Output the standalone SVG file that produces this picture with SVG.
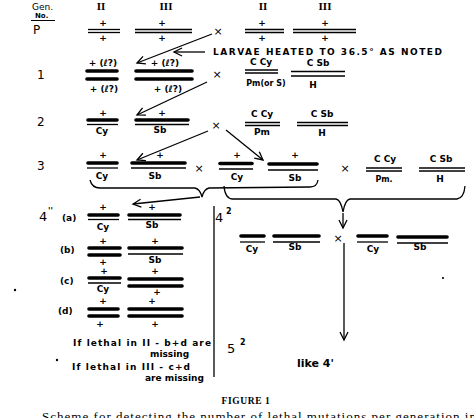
<svg xmlns="http://www.w3.org/2000/svg" width="474" height="418" viewBox="0 0 474 418">
<defs>
<marker id="ah" markerUnits="userSpaceOnUse" markerWidth="12" markerHeight="12" refX="9" refY="5" orient="auto">
<path d="M1,1 L9,5 L1,9" fill="none" stroke="#000" stroke-width="1.3"/>
</marker>
<style>
.t{stroke:#000;stroke-width:1.3;fill:none}
.k{stroke:#000;stroke-width:3.6;stroke-linecap:round;fill:none}
.c{stroke:#000;stroke-width:1.3;fill:none;marker-end:url(#ah)}
.b{stroke:#000;stroke-width:1.3;fill:none}
text{font-family:"DejaVu Sans","Liberation Sans",sans-serif;font-size:9px;font-weight:bold;fill:#000}
.m{text-anchor:middle}
.n{font-size:12px;font-weight:normal}
.r{font-family:"Liberation Serif",serif;font-weight:bold;font-size:11px}
.x{font-size:11px;text-anchor:middle;font-weight:normal}
.cap{font-family:"Liberation Serif",serif}
</style>
</defs>
<rect width="474" height="418" fill="#fff"/>

<g id="header">
<text x="32" y="10" style="font-weight:normal">Gen.</text>
<text x="35" y="18" style="font-size:7px">No.</text>
<line x1="31" y1="20.5" x2="55" y2="20.5" class="t" style="stroke-width:1"/>
<text x="33" y="34" class="n">P</text>
<text x="101" y="10" class="r m">II</text>
<text x="166" y="10" class="r m">III</text>
<text x="263" y="10" class="r m">II</text>
<text x="325" y="10" class="r m">III</text>
</g>

<g id="rowP">
<line x1="88" y1="29.5" x2="120" y2="29.5" class="t"/><line x1="88" y1="32.5" x2="120" y2="32.5" class="t"/>
<text x="103" y="26" class="m">+</text><text x="103" y="41" class="m">+</text>
<line x1="135" y1="29.5" x2="192" y2="29.5" class="t"/><line x1="135" y1="32.5" x2="192" y2="32.5" class="t"/>
<text x="162" y="26" class="m">+</text><text x="162" y="41" class="m">+</text>
<text x="218" y="35" class="x">×</text>
<line x1="245" y1="29.5" x2="284" y2="29.5" class="t"/><line x1="245" y1="32.5" x2="284" y2="32.5" class="t"/>
<text x="262" y="26" class="m">+</text><text x="262" y="41" class="m">+</text>
<line x1="293" y1="29.5" x2="356" y2="29.5" class="t"/><line x1="293" y1="32.5" x2="356" y2="32.5" class="t"/>
<text x="325" y="26" class="m">+</text><text x="325" y="41" class="m">+</text>
<text x="213" y="55" textLength="229" lengthAdjust="spacing">LARVAE HEATED TO 36.5° AS NOTED</text>
</g>

<g id="row1">
<text x="37" y="79" class="n">1</text>
<line x1="87" y1="71" x2="117" y2="71" class="k"/><line x1="87" y1="79" x2="117" y2="79" class="k"/>
<text x="103" y="66" class="m">+ (ℓ?)</text><text x="104" y="92" class="m">+ (ℓ?)</text>
<line x1="136" y1="71" x2="192" y2="71" class="k"/><line x1="136" y1="79" x2="192" y2="79" class="k"/>
<text x="165" y="66" class="m">+ (ℓ?)</text><text x="168" y="92" class="m">+ (ℓ?)</text>
<text x="217" y="78" class="x">×</text>
<line x1="245" y1="70" x2="278" y2="70" class="t"/><line x1="245" y1="73" x2="278" y2="73" class="t"/>
<text x="261" y="65" class="m">C Cy</text><text x="266" y="86" class="m" style="font-size:8px">Pm(or S)</text>
<line x1="291" y1="71.5" x2="345" y2="71.5" class="t"/><line x1="291" y1="76" x2="345" y2="76" class="t"/>
<text x="318" y="66" class="m">C Sb</text><text x="313" y="88" class="m">H</text>
</g>

<g id="row2">
<text x="37" y="126" class="n">2</text>
<line x1="88" y1="120" x2="117" y2="120" class="k"/><line x1="87" y1="124.5" x2="118" y2="124.5" class="t"/>
<text x="103" y="116" class="m">+</text><text x="102" y="134" class="m">Cy</text>
<line x1="136" y1="120" x2="188" y2="120" class="k"/><line x1="135" y1="124.5" x2="189" y2="124.5" class="t"/>
<text x="162" y="116" class="m">+</text><text x="160" y="133" class="m">Sb</text>
<text x="216" y="129" class="x">×</text>
<line x1="245" y1="122.5" x2="280" y2="122.5" class="t"/><line x1="245" y1="125.5" x2="280" y2="125.5" class="t"/>
<text x="262" y="117" class="m">C Cy</text><text x="262" y="135" class="m">Pm</text>
<line x1="297" y1="122.5" x2="348" y2="122.5" class="t"/><line x1="297" y1="125.5" x2="348" y2="125.5" class="t"/>
<text x="322" y="117" class="m">C Sb</text><text x="322" y="136" class="m">H</text>
</g>

<g id="row3">
<text x="37" y="170" class="n">3</text>
<line x1="88" y1="163" x2="117" y2="163" class="k"/><line x1="87" y1="168" x2="118" y2="168" class="t"/>
<text x="103" y="158" class="m">+</text><text x="102" y="179" class="m">Cy</text>
<line x1="132" y1="163" x2="185" y2="163" class="k"/><line x1="131" y1="168" x2="186" y2="168" class="t"/>
<text x="160" y="158" class="m">+</text><text x="155" y="179" class="m">Sb</text>
<text x="199" y="172" class="x">×</text>
<line x1="220" y1="163.5" x2="252" y2="163.5" class="k"/><line x1="219" y1="169" x2="253" y2="169" class="t"/>
<text x="237" y="158" class="m">+</text><text x="237" y="180" class="m">Cy</text>
<line x1="269" y1="164" x2="317" y2="164" class="k"/><line x1="268" y1="170" x2="318" y2="170" class="t"/>
<text x="295" y="158" class="m">+</text><text x="295" y="181" class="m">Sb</text>
<text x="345" y="172" class="x">×</text>
<line x1="366" y1="168" x2="402" y2="168" class="t"/><line x1="366" y1="171" x2="402" y2="171" class="t"/>
<text x="385" y="162" class="m">C Cy</text><text x="384" y="182" class="m" style="font-size:8px">Pm.</text>
<line x1="419" y1="168" x2="465" y2="168" class="t"/><line x1="419" y1="171" x2="465" y2="171" class="t"/>
<text x="441" y="162" class="m">C Sb</text><text x="440" y="182" class="m">H</text>
</g>

<g id="row4a">
<text x="39" y="221" style="font-size:13px;font-weight:normal">4</text><text x="48" y="214" style="font-size:8px">''</text>
<text x="62" y="221">(a)</text>
<line x1="89" y1="215" x2="118" y2="215" class="k"/><line x1="88" y1="219.5" x2="119" y2="219.5" class="t"/>
<text x="103" y="210" class="m">+</text><text x="103" y="230" class="m">Cy</text>
<line x1="129" y1="215" x2="180" y2="215" class="k"/><line x1="128" y1="219.5" x2="181" y2="219.5" class="t"/>
<text x="152" y="210" class="m">+</text><text x="152" y="228" class="m">Sb</text>
<text x="60" y="253">(b)</text>
<line x1="89" y1="248" x2="120" y2="248" class="k"/><line x1="89" y1="255" x2="120" y2="255" class="k"/>
<text x="103" y="244" class="m">+</text><text x="103" y="265" class="m">+</text>
<line x1="129" y1="248" x2="182" y2="248" class="k"/><line x1="128" y1="254" x2="183" y2="254" class="t"/>
<text x="155" y="244" class="m">+</text><text x="155" y="263" class="m">Sb</text>
<text x="60" y="284">(c)</text>
<line x1="89" y1="278" x2="120" y2="278" class="k"/><line x1="88" y1="283" x2="121" y2="283" class="t"/>
<text x="104" y="274" class="m">+</text><text x="103" y="292" class="m">Cy</text>
<line x1="129" y1="279" x2="182" y2="279" class="k"/><line x1="129" y1="286" x2="182" y2="286" class="k"/>
<text x="155" y="274" class="m">+</text><text x="157" y="294.5" class="m">+</text>
<text x="58" y="314">(d)</text>
<line x1="89" y1="309" x2="118" y2="309" class="k"/><line x1="89" y1="316" x2="118" y2="316" class="k"/>
<text x="103" y="304" class="m">+</text><text x="100" y="327" class="m">+</text>
<line x1="129" y1="309" x2="182" y2="309" class="k"/><line x1="129" y1="316" x2="182" y2="316" class="k"/>
<text x="152" y="304" class="m">+</text><text x="155" y="327" class="m">+</text>
<text x="73" y="346" textLength="138" lengthAdjust="spacing">If lethal in II - b+d are</text>
<text x="150" y="357">missing</text>
<text x="72" y="370" textLength="118" lengthAdjust="spacing">If lethal in III - c+d</text>
<text x="145" y="381">are missing</text>
</g>

<g id="row4b">
<text x="215" y="222" style="font-size:13px;font-weight:normal">4</text><text x="226" y="214" style="font-size:8px">2</text>
<line x1="241" y1="236" x2="264" y2="236" class="k"/><line x1="240" y1="242" x2="265" y2="242" class="t"/>
<text x="252" y="252" class="m">Cy</text>
<line x1="274" y1="236" x2="319" y2="236" class="k"/><line x1="273" y1="242" x2="320" y2="242" class="t"/>
<text x="295" y="250" class="m">Sb</text>
<text x="338" y="242" class="x">×</text>
<line x1="358" y1="236" x2="387" y2="236" class="k"/><line x1="357" y1="242" x2="388" y2="242" class="t"/>
<text x="373" y="252" class="m">Cy</text>
<line x1="398" y1="237" x2="447" y2="237" class="k"/><line x1="397" y1="243" x2="448" y2="243" class="t"/>
<text x="420" y="250" class="m">Sb</text>
</g>

<g id="row5">
<text x="227" y="353" style="font-size:13px;font-weight:normal">5</text><text x="240" y="345" style="font-size:8px">2</text>
<text x="297" y="367" style="font-size:11px">like 4'</text>
</g>

<g id="specks">
<circle cx="15" cy="290" r="1.2"/><circle cx="57" cy="360" r="1.2"/><circle cx="443" cy="278" r="1.1"/>
</g>

<g id="connectors">
<line x1="212" y1="34" x2="137" y2="63" class="c"/>
<line x1="205" y1="52" x2="174" y2="52" class="c"/>
<line x1="207" y1="82" x2="137" y2="115" class="c"/>
<line x1="208" y1="131" x2="137" y2="160" class="c"/>
<line x1="226" y1="130" x2="263" y2="160" class="c"/>
<path d="M90,180 Q92,188 100,188 L195,188 Q200,189 202,197 Q204,189 209,188 L310,187 Q317,187 318,180" class="b"/>
<path d="M224,186 Q225,199 233,199 L336,199 Q341,200 343,212 Q345,200 350,199 L457,199 Q464,198 465,186" class="b"/>
<line x1="200" y1="197" x2="133" y2="204" class="c"/>
<line x1="343" y1="213" x2="343" y2="228" class="c"/>
<line x1="344" y1="243" x2="344" y2="340" class="c"/>
<line x1="214" y1="206" x2="214" y2="377" class="b"/>
</g>

<g id="caption">
<text x="246" y="404" class="cap m" style="font-size:9.5px;font-weight:bold;letter-spacing:0.6px">FIGURE 1</text>
<text x="42" y="421" class="cap" style="font-size:13px;font-weight:normal" textLength="434" lengthAdjust="spacing">Scheme for detecting the number of lethal mutations per generation in</text>
</g>
</svg>
